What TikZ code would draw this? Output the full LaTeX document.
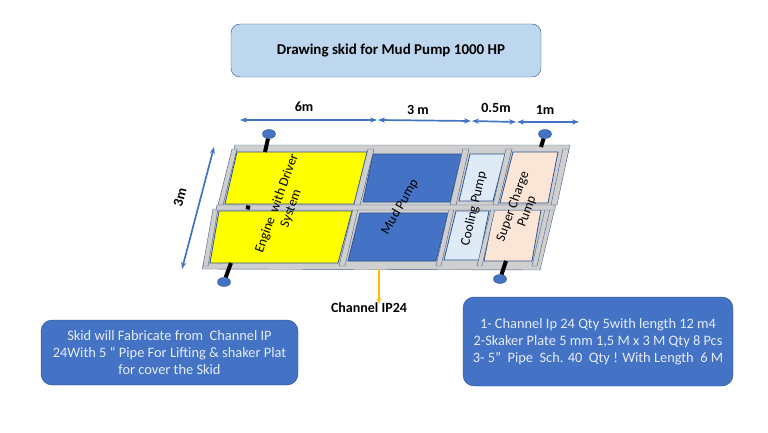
\documentclass[tikz,border=0pt]{standalone}
\usepackage{fontspec}
\setmainfont{Carlito}
\usepackage{xcolor}
\usetikzlibrary{arrows.meta,shapes.geometric}
\definecolor{boxblue}{HTML}{4472C4}
\definecolor{titleblue}{HTML}{BDD7EE}
\definecolor{edgeblue}{HTML}{2F528F}
\definecolor{steelgrey}{HTML}{CFCFCF}
\definecolor{coolblue}{HTML}{DEEBF7}
\definecolor{chargepeach}{HTML}{FBE5D6}
\definecolor{boxtext}{HTML}{E4ECF8}
\definecolor{enginefill}{HTML}{FFFF00}
\definecolor{callout}{HTML}{FFC000}
\tikzset{
    panel/.style={draw=edgeblue,thick},
    beam/.style={draw=edgeblue!70!gray,fill=steelgrey,thin},
    lug/.style={ellipse,draw=edgeblue,fill=boxblue,minimum width=13pt,minimum height=9pt,inner sep=0pt},
    pipe/.style={black,line width=4pt},
    dimline/.style={{Stealth[length=7pt]}-{Stealth[length=7pt]},draw=boxblue,line width=1.7pt},
    note/.style={rectangle,rounded corners=11pt,draw=edgeblue,fill=boxblue,text=boxtext,align=center,font=\fontsize{14.4}{17}\selectfont},
    dimtext/.style={font=\fontsize{14}{16}\selectfont\bfseries},
    onpanel/.style={align=center,font=\fontsize{13.5}{15}\selectfont,inner sep=0pt}
}
\begin{document}
\begin{tikzpicture}[x=1pt,y=-1pt]
    \useasboundingbox (0,0) rectangle (768,433);
    % skid frame
    \draw[beam] (235,145) -- (570,145) -- (540,270) -- (202,269) -- cycle;
    % panels
    \draw[panel,fill=enginefill] (237,152) -- (367,152) -- (354,204) -- (225,204) -- cycle;
    \draw[panel,fill=enginefill] (219,211) -- (352,211) -- (338,263) -- (210,263) -- cycle;
    \draw[panel,fill=boxblue] (373,154) -- (462,154) -- (450,202) -- (363,202) -- cycle;
    \draw[panel,fill=boxblue] (360,213) -- (448,213) -- (436,261) -- (348,261) -- cycle;
    \draw[panel,fill=coolblue] (470,154) -- (505,154) -- (493,201) -- (459,201) -- cycle;
    \draw[panel,fill=coolblue] (456,211) -- (489,211) -- (479,260) -- (444,260) -- cycle;
    \draw[panel,fill=chargepeach] (513,152) -- (558,152) -- (548,203) -- (500,203) -- cycle;
    \draw[panel,fill=chargepeach] (494,210) -- (541,210) -- (532,261) -- (484,261) -- cycle;
    % channels
    \foreach \xa/\xb/\xc/\xd in {232/237/223/218, 368/374/360/354, 463/469/456/450, 506/512/498/493, 563/569/557/551}
        \draw[beam] (\xa,149) -- (\xb,149) -- (\xc,205) -- (\xd,205) -- cycle;
    \foreach \xa/\xb/\xc/\xd in {213/218/208/203, 353/358/345/339, 449/454/441/436, 491/495/482/477, 545/550/537/532}
        \draw[beam] (\xa,209) -- (\xb,209) -- (\xc,266) -- (\xd,266) -- cycle;
    \draw[beam] (217,205) -- (555,205) -- (555,210) -- (216,210) -- cycle;
    % lifting pipes
    \node[lug] (lugA) at (269,134) {};
    \node[lug] (lugB) at (545,134) {};
    \node[lug] (lugC) at (224,282) {};
    \node[lug] (lugD) at (500,279) {};
    \coordinate (pipeA) at (265,152);
    \coordinate (pipeB) at (541,147);
    \coordinate (pipeC) at (231,263);
    \coordinate (pipeD) at (506,261);
    \coordinate (stubA) at (248.5,205.5);
    \coordinate (stubB) at (247.5,209.5);
    \draw[pipe] (lugA) -- (pipeA);
    \draw[pipe] (lugB) -- (pipeB);
    \draw[pipe] (lugC) -- (pipeC);
    \draw[pipe] (lugD) -- (pipeD);
    \draw[pipe] (stubA) -- (stubB);
    % dimensions
    \coordinate (dimA) at (240,120);
    \coordinate (dimB) at (377,120);
    \coordinate (dimC) at (378,120);
    \coordinate (dimD) at (471,121);
    \coordinate (dimE) at (472,121);
    \coordinate (dimF) at (516,122);
    \coordinate (dimG) at (517,122);
    \coordinate (dimH) at (579,122);
    \coordinate (dimI) at (214,147);
    \coordinate (dimJ) at (182,269);
    \draw[dimline] (dimA) -- (dimB);
    \draw[dimline] (dimC) -- (dimD);
    \draw[dimline] (dimE) -- (dimF);
    \draw[dimline] (dimG) -- (dimH);
    \draw[dimline] (dimI) -- (dimJ);
    \node[dimtext] (sixm) at (304,107) {6m};
    \node[dimtext] (threem) at (418,110) {3 m};
    \node[dimtext] (halfm) at (496,108) {0.5m};
    \node[dimtext] (onem) at (545,110) {1m};
    \node[dimtext,rotate=75] (width) at (180,197) {3m};
    % labels on the panels
    \node[onpanel,rotate=70] (engine) at (284,206) {Engine\ \ with Driver\\System};
    \node[onpanel,rotate=60] (mud) at (400,207) {Mud Pump};
    \node[onpanel,rotate=77] (cooling) at (474,209) {Cooling Pump};
    \node[onpanel,rotate=70] (charge) at (520,209) {Super Charge\\Pump};
    % channel callout
    \node[dimtext] (channel) at (369,308) {Channel IP24};
    \coordinate (chtop) at (379,269);
    \coordinate (chend) at (379,304);
    \draw[-{Stealth[length=6pt]},draw=callout,line width=1.7pt] (chtop) -- (chend);
    % boxes
    \node[rectangle,rounded corners=9pt,draw=edgeblue,fill=titleblue,minimum width=310pt,minimum height=53pt,font=\fontsize{15}{17}\selectfont\bfseries] (title) at (386,50.5) {\hspace*{10pt}Drawing skid for Mud Pump 1000 HP};
    \node[note,minimum width=257pt,minimum height=65pt] (skidnote) at (169.5,352.5) {Skid will Fabricate from\ \ Channel IP\\24With 5 “ Pipe For Lifting \& shaker Plat\\for cover the Skid};
    \node[note,minimum width=270pt,minimum height=89pt] (qtynote) at (598,341.5) {1- Channel Ip 24 Qty 5with length 12 m4\\2-Skaker Plate 5 mm 1,5 M x 3 M Qty 8 Pcs\\3- 5”\ \ Pipe\ \ Sch. 40\ \ Qty ! With Length\ \ 6 M};
\end{tikzpicture}
\end{document}
